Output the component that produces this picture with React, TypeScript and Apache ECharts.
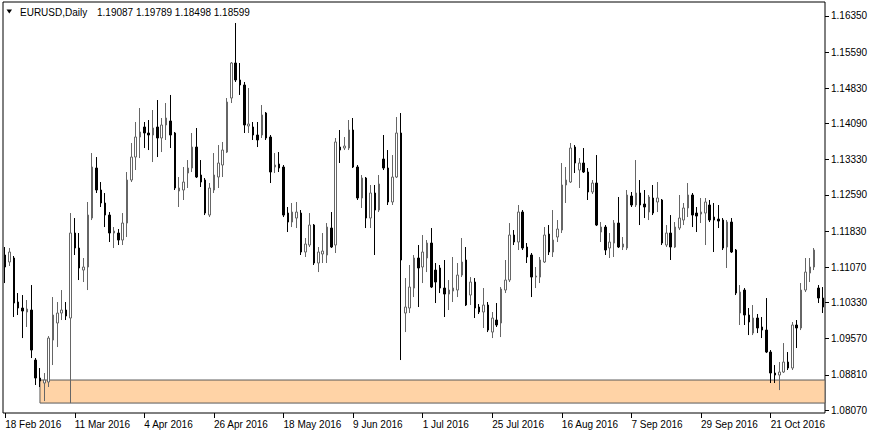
import React, { useEffect, useRef } from "react";
import * as echarts from "echarts";

// ---- data (EURUSD daily) ----
const opens = [
  1.11327, 1.1118, 1.11264, 1.10339, 1.10213, 1.10129, 1.10171, 1.0912, 1.08742, 1.08637,
  1.08658, 1.0954, 1.09898, 1.10108, 1.10171, 1.10003, 1.11789, 1.11474, 1.11011, 1.11075,
  1.12104, 1.13155, 1.12693, 1.1242, 1.12167, 1.11789, 1.11789, 1.11642, 1.11999, 1.12903,
  1.13386, 1.13807, 1.14017, 1.13891, 1.13849, 1.14017, 1.13786, 1.14059, 1.14143, 1.13891,
  1.12672, 1.12693, 1.1305, 1.13155, 1.13596, 1.13008, 1.12903, 1.12167, 1.12693, 1.12966,
  1.13218, 1.13491, 1.14626, 1.15362, 1.15005, 1.149, 1.14038, 1.14017, 1.13849, 1.13849,
  1.14311, 1.13807, 1.13176, 1.13239, 1.13176, 1.12209, 1.1202, 1.12104, 1.12209, 1.1139,
  1.11537, 1.11957, 1.11159, 1.11348, 1.11327, 1.11894, 1.11537, 1.13596, 1.13575, 1.13575,
  1.13954, 1.13176, 1.12525, 1.12945, 1.12104, 1.1263, 1.12272, 1.13344, 1.13155, 1.12441,
  1.12966, 1.13891, 1.10108, 1.10213, 1.10633, 1.11264, 1.11075, 1.11264, 1.11579, 1.11011,
  1.11054, 1.10633, 1.10507, 1.1057, 1.10591, 1.10906, 1.11222, 1.10486, 1.10759, 1.10234,
  1.10129, 1.10276, 1.09708, 1.09961, 1.09898, 1.10591, 1.10801, 1.11747, 1.116, 1.1223,
  1.11495, 1.11327, 1.10864, 1.10864, 1.1118, 1.11768, 1.1139, 1.11705, 1.11852, 1.12798,
  1.12861, 1.13596, 1.13113, 1.1326, 1.13071, 1.12651, 1.1284, 1.1181, 1.11915, 1.11474,
  1.11579, 1.11999, 1.11495, 1.11474, 1.12567, 1.12378, 1.1263, 1.12399, 1.1223, 1.12525,
  1.12441, 1.12483, 1.11537, 1.11789, 1.11495, 1.11894, 1.12062, 1.12315, 1.12588, 1.12209,
  1.12188, 1.12209, 1.12378, 1.12125, 1.12083, 1.12062, 1.11495, 1.1202, 1.11432, 1.10108,
  1.10591, 1.10066, 1.09687, 1.10003, 1.09814, 1.0975, 1.09288, 1.08847, 1.08805, 1.08868,
  1.09078, 1.08952, 1.09856, 1.09793, 1.10591, 1.10948, 1.11075, 1.10633, 1.10423,
];
const closes = [
  1.11075, 1.1139, 1.10318, 1.10213, 1.1015, 1.10192, 1.0933, 1.08742, 1.08679, 1.087,
  1.09582, 1.10066, 1.10108, 1.10171, 1.10045, 1.11789, 1.11474, 1.11054, 1.11075, 1.12167,
  1.13176, 1.12693, 1.1242, 1.12167, 1.11789, 1.11831, 1.11642, 1.11999, 1.12903, 1.13386,
  1.13807, 1.13912, 1.13891, 1.13849, 1.13996, 1.13786, 1.14059, 1.14206, 1.13849, 1.12735,
  1.12735, 1.12861, 1.13155, 1.13596, 1.12966, 1.12861, 1.12209, 1.12735, 1.13008, 1.1326,
  1.13533, 1.14542, 1.15362, 1.15005, 1.149, 1.14059, 1.1408, 1.13849, 1.13744, 1.14269,
  1.13786, 1.13071, 1.13218, 1.13155, 1.12167, 1.1202, 1.1223, 1.1223, 1.1139, 1.11558,
  1.11957, 1.11159, 1.1139, 1.11411, 1.11915, 1.11495, 1.13702, 1.13533, 1.13617, 1.13954,
  1.13176, 1.12525, 1.12945, 1.12104, 1.1263, 1.12272, 1.12819, 1.13155, 1.12441, 1.12966,
  1.13891, 1.11222, 1.10234, 1.10654, 1.11264, 1.11054, 1.1139, 1.11579, 1.10654, 1.10759,
  1.10633, 1.10507, 1.10591, 1.10633, 1.10906, 1.1118, 1.10276, 1.10759, 1.10213, 1.10129,
  1.10276, 1.0975, 1.10003, 1.09856, 1.10612, 1.10801, 1.11747, 1.116, 1.1223, 1.11474,
  1.11285, 1.10864, 1.10885, 1.11222, 1.11747, 1.1139, 1.11642, 1.11873, 1.12798, 1.12903,
  1.13575, 1.1326, 1.1326, 1.13071, 1.12651, 1.1284, 1.11957, 1.11915, 1.11432, 1.116,
  1.11999, 1.11495, 1.11558, 1.12588, 1.12378, 1.1263, 1.12378, 1.12336, 1.12546, 1.12209,
  1.12525, 1.11579, 1.11789, 1.11495, 1.11915, 1.12104, 1.12315, 1.12588, 1.12167, 1.12146,
  1.1223, 1.12441, 1.12062, 1.12062, 1.12041, 1.11474, 1.1202, 1.1139, 1.10528, 1.10549,
  1.10066, 1.09919, 1.10003, 1.09793, 1.0975, 1.09288, 1.08847, 1.08805, 1.08868, 1.09078,
  1.08952, 1.09856, 1.09793, 1.10591, 1.10969, 1.11075, 1.11432, 1.10423, 1.10234,
];
const lows = [
  1.10738, 1.11096, 1.10024, 1.10066, 1.09582, 1.09814, 1.09162, 1.08595, 1.08553, 1.08258,
  1.08553, 1.09015, 1.09393, 1.09961, 1.09961, 1.08216, 1.11327, 1.10801, 1.10759, 1.10591,
  1.12062, 1.1263, 1.12336, 1.11915, 1.116, 1.11474, 1.11537, 1.11537, 1.11705, 1.12861,
  1.13113, 1.13365, 1.13575, 1.13533, 1.13281, 1.13386, 1.13491, 1.13744, 1.13575, 1.12693,
  1.12336, 1.12483, 1.12735, 1.13071, 1.12945, 1.12756, 1.12167, 1.12125, 1.1263, 1.12735,
  1.12966, 1.1347, 1.14521, 1.14963, 1.1469, 1.13891, 1.13891, 1.13744, 1.13596, 1.13786,
  1.13744, 1.1284, 1.1305, 1.13071, 1.12125, 1.1181, 1.11915, 1.11894, 1.11327, 1.11285,
  1.11495, 1.11117, 1.10969, 1.11159, 1.11159, 1.11474, 1.11369, 1.1326, 1.13533, 1.13533,
  1.13155, 1.12483, 1.12315, 1.11894, 1.11894, 1.11327, 1.1223, 1.13113, 1.12378, 1.12378,
  1.12945, 1.0912, 1.09708, 1.10108, 1.10444, 1.10234, 1.10738, 1.10969, 1.10633, 1.10318,
  1.10528, 1.10024, 1.10171, 1.10339, 1.10444, 1.10864, 1.10255, 1.10276, 1.10003, 1.10087,
  1.09793, 1.09708, 1.09582, 1.09814, 1.09603, 1.10528, 1.10759, 1.11537, 1.11432, 1.11432,
  1.11159, 1.10444, 1.10633, 1.10738, 1.11159, 1.11327, 1.11285, 1.116, 1.11789, 1.1242,
  1.1284, 1.1305, 1.12735, 1.1305, 1.12483, 1.12609, 1.11936, 1.116, 1.11327, 1.11264,
  1.11285, 1.11474, 1.11432, 1.11432, 1.12336, 1.12336, 1.11957, 1.12104, 1.12062, 1.12167,
  1.1223, 1.11537, 1.11495, 1.11222, 1.11474, 1.11852, 1.11957, 1.12125, 1.11915, 1.1181,
  1.11999, 1.11537, 1.1202, 1.1139, 1.11894, 1.11432, 1.11054, 1.11369, 1.10486, 1.09856,
  1.09856, 1.09645, 1.09645, 1.09687, 1.09582, 1.09267, 1.08637, 1.08637, 1.08489, 1.08847,
  1.0891, 1.0891, 1.09372, 1.0975, 1.10549, 1.10759, 1.11011, 1.10318, 1.10108,
];
const highs = [
  1.11495, 1.11474, 1.11306, 1.10528, 1.10486, 1.10381, 1.10696, 1.09162, 1.08952, 1.08847,
  1.09624, 1.10444, 1.10339, 1.10591, 1.10339, 1.12209, 1.12104, 1.11789, 1.11264, 1.12441,
  1.1347, 1.13386, 1.12861, 1.1263, 1.1223, 1.11915, 1.11873, 1.12209, 1.13071, 1.13681,
  1.14122, 1.14416, 1.14122, 1.14164, 1.14374, 1.14584, 1.14206, 1.14521, 1.1469, 1.13912,
  1.12966, 1.13176, 1.13323, 1.13891, 1.13996, 1.13323, 1.12945, 1.1284, 1.1347, 1.13638,
  1.13702, 1.14626, 1.15383, 1.16203, 1.15362, 1.14963, 1.14837, 1.14122, 1.14122, 1.14479,
  1.14332, 1.13849, 1.1347, 1.13491, 1.13218, 1.12336, 1.1242, 1.12441, 1.12272, 1.11684,
  1.12209, 1.11978, 1.11495, 1.11789, 1.11999, 1.1223, 1.13786, 1.13954, 1.13807, 1.14164,
  1.14206, 1.13218, 1.13008, 1.12966, 1.12798, 1.12798, 1.13008, 1.13849, 1.13533, 1.13428,
  1.14227, 1.14311, 1.10843, 1.11117, 1.11327, 1.11537, 1.11747, 1.11642, 1.11894, 1.11159,
  1.11117, 1.11222, 1.10801, 1.11285, 1.11159, 1.11684, 1.11495, 1.10864, 1.10843, 1.10297,
  1.10633, 1.10339, 1.10129, 1.10318, 1.10654, 1.11222, 1.11999, 1.11852, 1.12378, 1.12272,
  1.11579, 1.11369, 1.11075, 1.11285, 1.11915, 1.11957, 1.12272, 1.12062, 1.1326, 1.13176,
  1.13681, 1.13638, 1.13365, 1.13575, 1.13155, 1.12903, 1.13428, 1.1202, 1.11957, 1.11789,
  1.12062, 1.12546, 1.11705, 1.12693, 1.12651, 1.13323, 1.12903, 1.12693, 1.12588, 1.12798,
  1.12861, 1.12504, 1.11957, 1.12167, 1.1202, 1.12588, 1.1242, 1.1284, 1.1263, 1.12336,
  1.12525, 1.12525, 1.12483, 1.1242, 1.12378, 1.12104, 1.12062, 1.12104, 1.11453, 1.10696,
  1.10633, 1.10213, 1.10276, 1.10087, 1.10024, 1.10423, 1.0933, 1.09015, 1.09078, 1.09477,
  1.09288, 1.09919, 1.09961, 1.10738, 1.11264, 1.11264, 1.11474, 1.10696, 1.10654,
];

const yTicks = [1.0807, 1.0881, 1.0957, 1.1033, 1.1107, 1.1183, 1.1259, 1.1333, 1.1409, 1.1483, 1.1559, 1.1635];
const Y_MIN = 1.08007;
const Y_MAX = 1.16644;
const zoneTop = 1.087;
const zoneBottom = 1.08216;
const zoneStartIndex = 8;
const symbolTitle = "EURUSD,Daily";
const headerPrices = ["1.19087", "1.19789", "1.18498", "1.18599"];
const firstDay = "2016-02-18";
const LABEL_EVERY = 16;

const MONTHS = ["Jan", "Feb", "Mar", "Apr", "May", "Jun", "Jul", "Aug", "Sep", "Oct", "Nov", "Dec"];

function tradingDays(start: string, count: number): string[] {
  const out: string[] = [];
  const d = new Date(start + "T00:00:00Z");
  while (out.length < count) {
    const wd = d.getUTCDay();
    if (wd !== 0 && wd !== 6) {
      out.push(`${d.getUTCDate()} ${MONTHS[d.getUTCMonth()]} ${d.getUTCFullYear()}`);
    }
    d.setUTCDate(d.getUTCDate() + 1);
  }
  return out;
}

const dates = tradingDays(firstDay, opens.length);
const FONT = "Liberation Sans";

export default function App() {
  const ref = useRef<HTMLDivElement>(null);

  useEffect(() => {
    document.body.style.margin = "0";
    const chart = echarts.init(ref.current!, null, { renderer: "svg" });
    const data = opens.map((o, i) => [o, closes[i], lows[i], highs[i]]);
    const showIdx = (i: number) => i % LABEL_EVERY === 0;

    chart.setOption({
      animation: false,
      backgroundColor: "#ffffff",
      textStyle: { fontFamily: FONT },
      grid: {
        left: 3,
        top: 2,
        right: 47,
        bottom: 23,
        show: true,
        borderColor: "#000000",
        borderWidth: 1,
        backgroundColor: "transparent",
      },
      xAxis: {
        type: "category",
        data: dates,
        boundaryGap: true,
        axisLine: { show: false },
        axisTick: {
          show: true,
          alignWithLabel: true,
          interval: showIdx,
          length: 5,
          lineStyle: { color: "#000000" },
        },
        axisLabel: {
          interval: showIdx,
          align: "left",
          margin: 6,
          fontSize: 10,
          color: "#000000",
          fontFamily: FONT,
        },
        splitLine: { show: false },
      },
      yAxis: {
        type: "value",
        position: "right",
        min: Y_MIN,
        max: Y_MAX,
        axisLine: { show: false },
        axisTick: {
          show: true,
          customValues: yTicks,
          length: 4,
          lineStyle: { color: "#000000" },
        },
        axisLabel: {
          customValues: yTicks,
          formatter: (v: number) => v.toFixed(5),
          margin: 6,
          fontSize: 10,
          color: "#000000",
          fontFamily: FONT,
        },
        splitLine: { show: false },
      },
      series: [
        {
          type: "candlestick",
          data,
          barWidth: 2,
          itemStyle: {
            color: "#ffffff",
            color0: "#000000",
            borderColor: "#666666",
            borderColor0: "#000000",
            borderWidth: 1,
          },
          markArea: {
            silent: true,
            itemStyle: { color: "#FFD3A6", borderColor: "#5a5a5a", borderWidth: 1 },
            data: [[{ xAxis: dates[zoneStartIndex], yAxis: zoneTop }, { yAxis: zoneBottom }]],
          },
        },
      ],
      graphic: [
        {
          type: "polygon",
          shape: { points: [[6.5, 9.5], [12, 9.5], [9.25, 13.5]] },
          style: { fill: "#000000" },
        },
        {
          type: "text",
          x: 20,
          y: 12,
          style: { text: symbolTitle, fontSize: 10, fontFamily: FONT, fill: "#000000", verticalAlign: "middle" },
        },
        {
          type: "text",
          x: 97,
          y: 12,
          style: { text: headerPrices.join(" "), fontSize: 10, fontFamily: FONT, fill: "#000000", verticalAlign: "middle" },
        },
      ],
    });
    return () => chart.dispose();
  }, []);

  return <div ref={ref} style={{ width: 872, height: 436 }} />;
}
